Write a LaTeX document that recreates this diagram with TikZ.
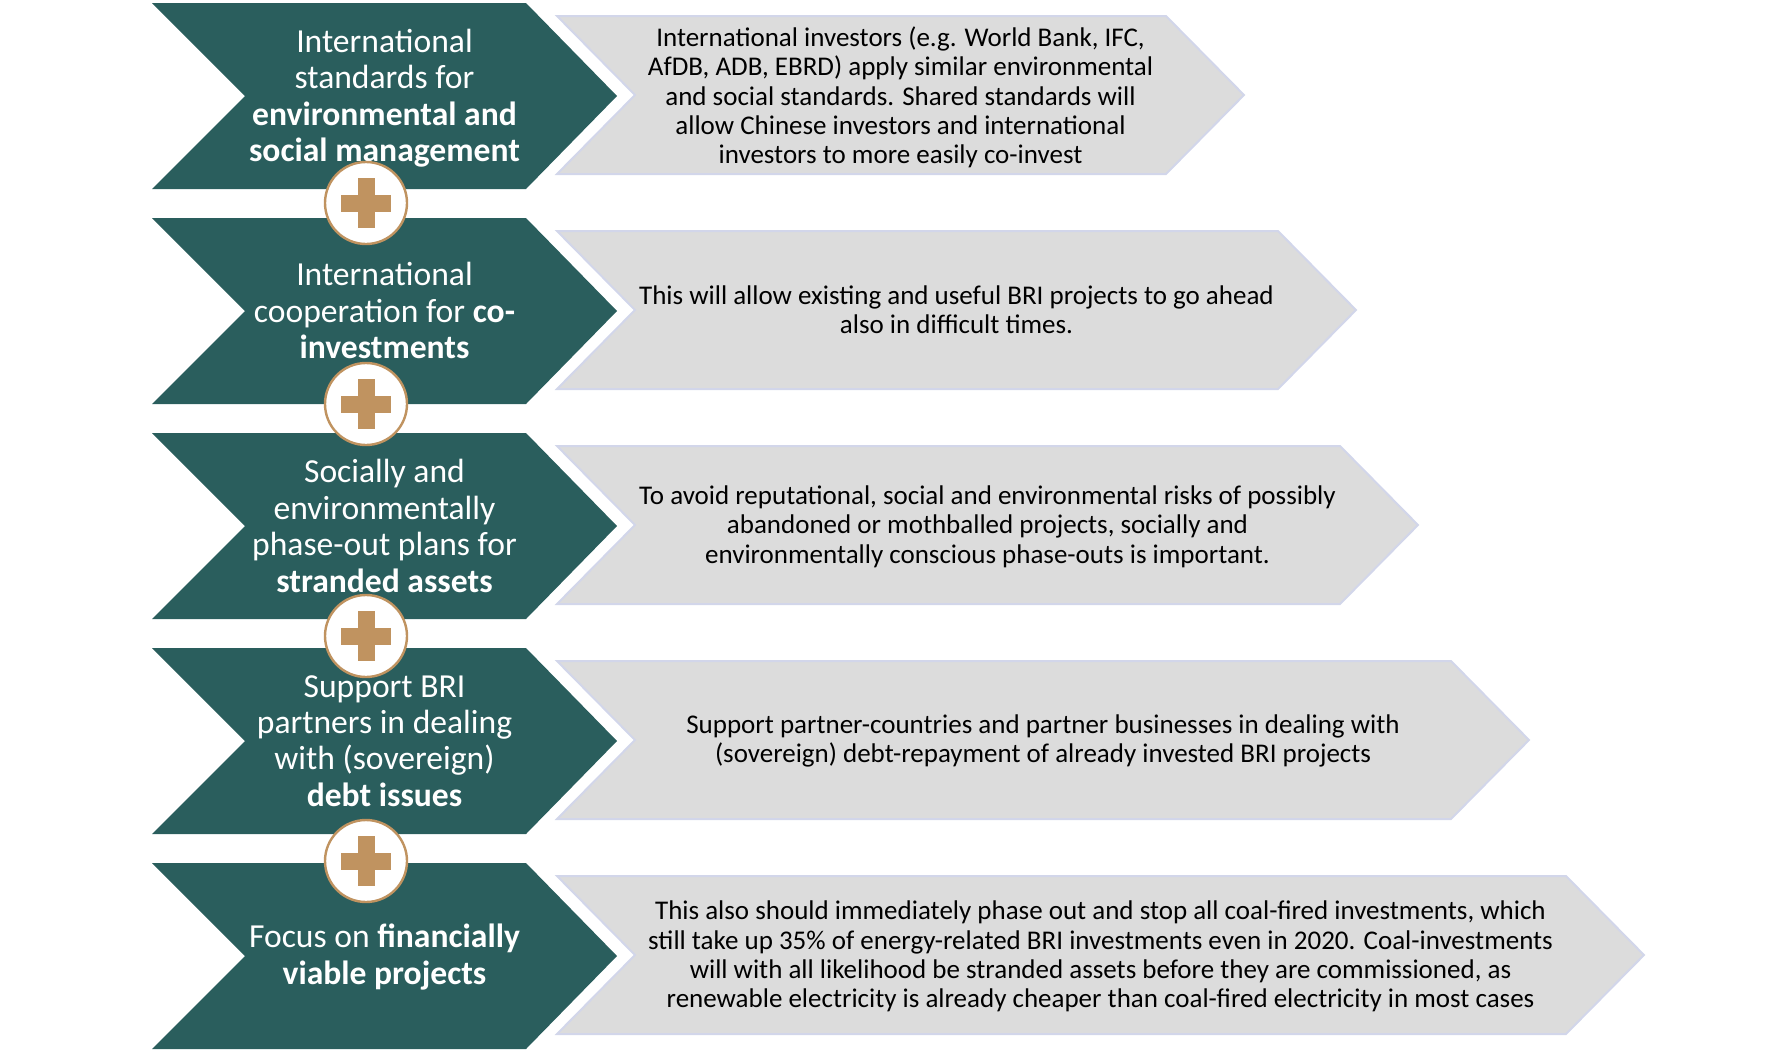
\documentclass[tikz,border=0pt]{standalone}
\usepackage{fontspec}
\setmainfont{Carlito}
\definecolor{tealg}{RGB}{42,94,93}
\definecolor{grayfill}{RGB}{220,220,220}
\definecolor{grayline}{RGB}{210,214,234}
\definecolor{brownp}{RGB}{192,147,96}
\begin{document}
\begin{tikzpicture}[x=0.5pt,y=-0.5pt,
  greenshape/.style={fill=tealg},
  grayshape/.style={fill=grayfill,draw=grayline,line width=1pt,line join=miter},
  greentxt/.style={text=white,align=center,inner sep=0pt,font=\fontsize{16.8}{18.2}\selectfont},
  graytxt/.style={text=black,align=center,inner sep=0pt,font=\fontsize{13.5}{14.7}\selectfont},
  plusring/.style={circle,fill=white,draw=brownp,line width=1.2pt,minimum size=41pt,inner sep=0pt,
    path picture={
      \fill[brownp] (path picture bounding box.center) ++(-25,-8.5) rectangle ++(50,17);
      \fill[brownp] (path picture bounding box.center) ++(-8.5,-25) rectangle ++(17,50);
    }}
]
\useasboundingbox (0,0) rectangle (1789,1050);

% green chevrons
\foreach \k in {0,...,4}{
  \pgfmathsetmacro{\t}{3+215*\k}
  \pgfmathsetmacro{\m}{\t+93}
  \pgfmathsetmacro{\b}{\t+186}
  \fill[greenshape] (152,\t) -- (526,\t) -- (617,\m) -- (526,\b) -- (152,\b) -- (245,\m) -- cycle;
}
% gray chevrons
\foreach \k/\R in {0/1166,1/1278,2/1340,3/1451,4/1566}{
  \pgfmathsetmacro{\g}{16+215*\k}
  \pgfmathsetmacro{\m}{\g+79}
  \pgfmathsetmacro{\b}{\g+158}
  \pgfmathsetmacro{\tip}{\R+78}
  \path[grayshape] (557,\g) -- (\R,\g) -- (\tip,\m) -- (\R,\b) -- (557,\b) -- (635,\m) -- cycle;
}

% green texts
\node[greentxt] (g1) at (384.5,98) {International\\standards for\\\textbf{environmental and}\\\textbf{social management}};
\node[greentxt] (g2) at (384.5,310.5) {International\\cooperation for \textbf{co-}\\\textbf{investments}};
\node[greentxt] (g3) at (384.5,526) {Socially and\\environmentally\\phase-out plans for\\\textbf{stranded assets}};
\node[greentxt] (g4) at (384.5,741) {Support BRI\\partners in dealing\\with (sovereign)\\\textbf{debt issues}};
\node[greentxt] (g5) at (384.5,957) {Focus on \textbf{financially}\\\textbf{viable projects}};

% gray texts
\node[graytxt] (t1) at (900.5,97.5) {International investors (e.g. World Bank, IFC,\\AfDB, ADB, EBRD) apply similar environmental\\and social standards. Shared standards will\\allow Chinese investors and international\\investors to more easily co-invest};
\node[graytxt] (t2) at (956.5,310) {This will allow existing and useful BRI projects to go ahead\\also in difficult times.};
\node[graytxt] (t3) at (987.5,526.5) {To avoid reputational, social and environmental risks of possibly\\abandoned or mothballed projects, socially and\\environmentally conscious phase-outs is important.};
\node[graytxt] (t4) at (1043,741) {Support partner-countries and partner businesses in dealing with\\(sovereign) debt-repayment of already invested BRI projects};
\node[graytxt] (t5) at (1100.5,956.5) {This also should immediately phase out and stop all coal-fired investments, which\\still take up 35\% of energy-related BRI investments even in 2020. Coal-investments\\will with all likelihood be stranded assets before they are commissioned, as\\renewable electricity is already cheaper than coal-fired electricity in most cases};

% plus circles
\node[plusring] (p1) at (366,203) {};
\node[plusring] (p2) at (366,404) {};
\node[plusring] (p3) at (366,636) {};
\node[plusring] (p4) at (366,861) {};
\end{tikzpicture}
\end{document}
